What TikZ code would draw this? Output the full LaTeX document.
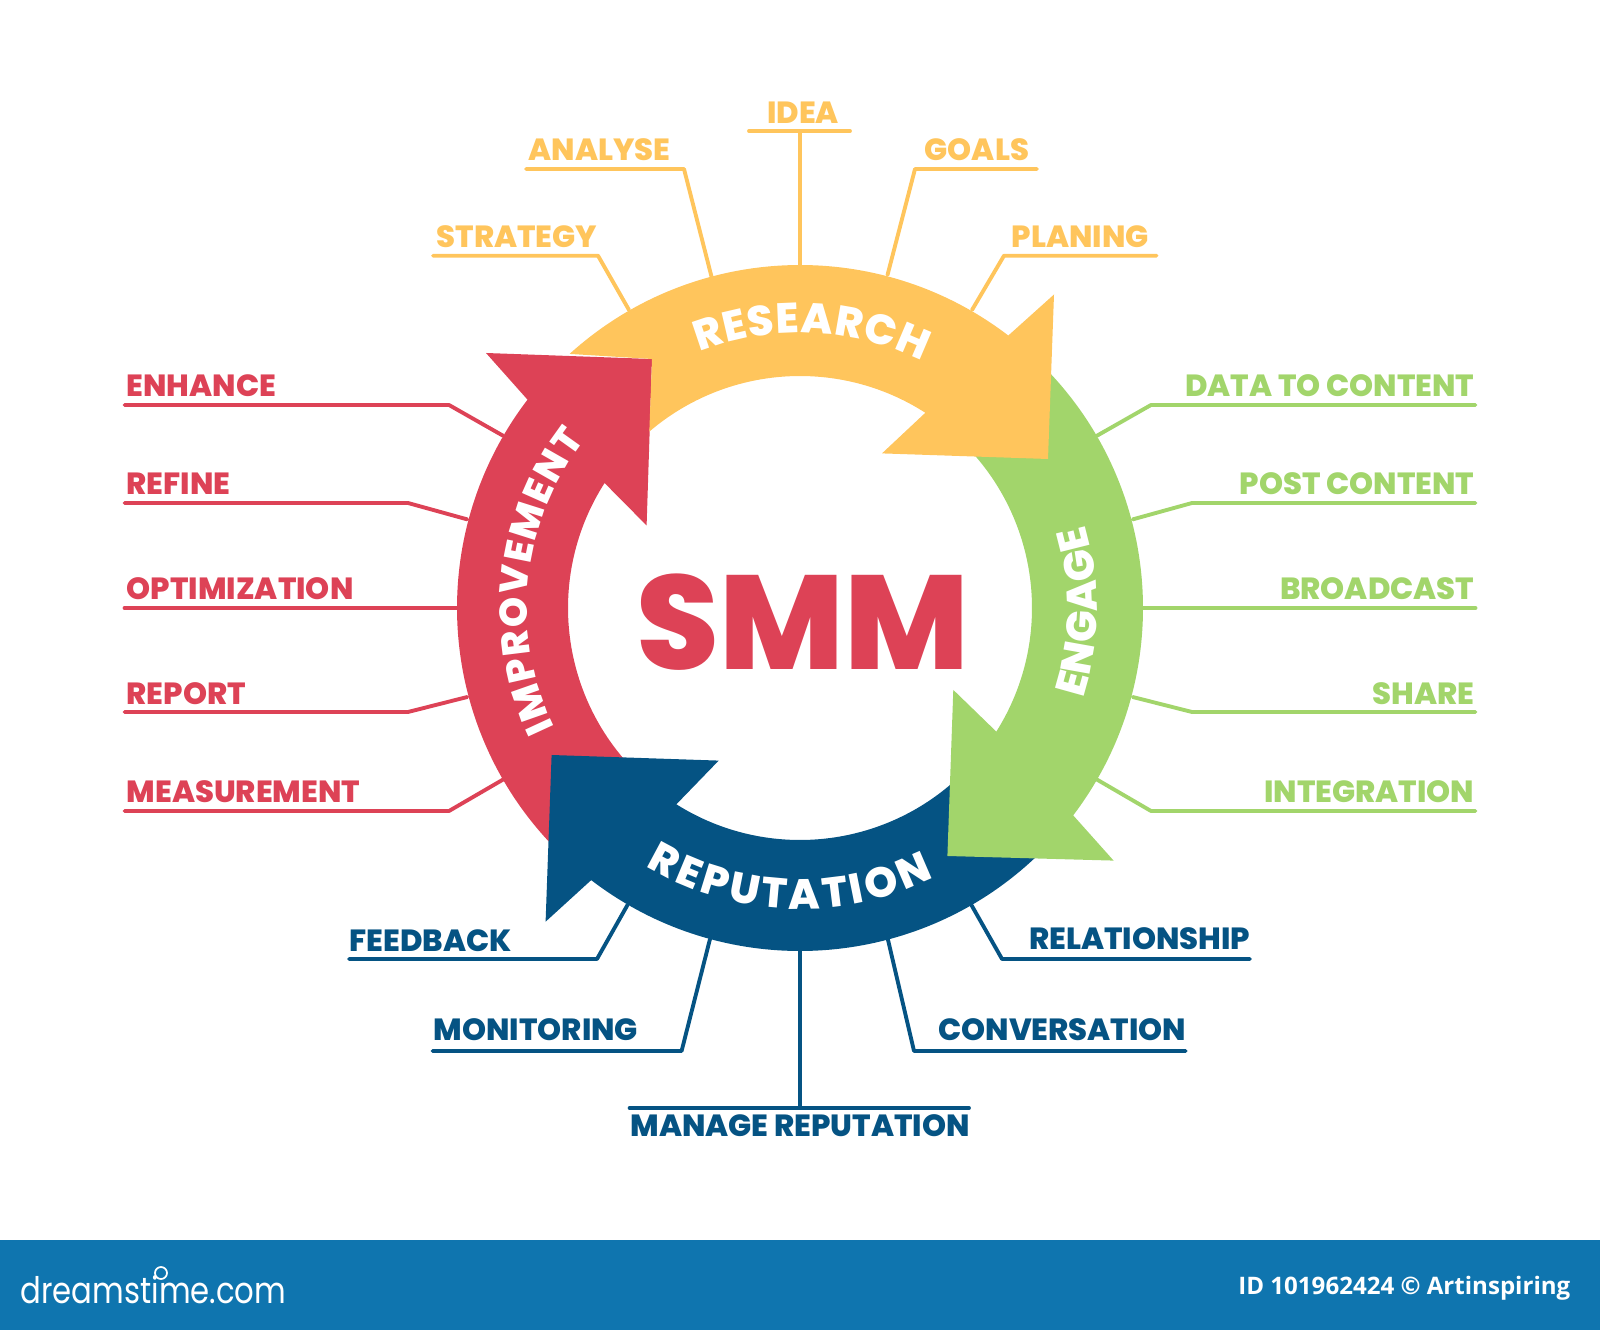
\documentclass[tikz,border=0pt]{standalone}
\usepackage{fontspec}
\setmainfont{Poppins}[BoldFont={Poppins ExtraBold}]
\newfontfamily\idfont{Open Sans}
\usetikzlibrary{calc,decorations.text}
\definecolor{yellowcol}{HTML}{FFC55C}
\definecolor{redcol}{HTML}{DD4256}
\definecolor{greencol}{HTML}{A2D56B}
\definecolor{bluecol}{HTML}{055383}
\definecolor{barcol}{HTML}{0F75AF}
\newcommand{\ringfont}{\fontsize{12}{13}\selectfont\bfseries}
\newcommand{\ringsmall}{\fontsize{11}{12}\selectfont\bfseries}
\tikzset{
	lab/.style={inner sep=0pt, font=\fontsize{8.7}{9}\selectfont\bfseries},
	labw/.style={lab, anchor=base west},
	labe/.style={lab, anchor=base east},
	wire/.style={line width=1.1pt, line cap=round, line join=round},
	ringtext/.style 2 args={decorate, decoration={text along path, text={|#1\color{white}|#2}, text align={fit to path}}}
}
\begin{document}
\begin{tikzpicture}[x=0.01cm,y=0.01cm]
	\useasboundingbox (0,0) rectangle (1600,1330);
	\coordinate (C) at (800,722);

	% arrows of the ring
	\fill[redcol] ($(C)+(225:343)$) arc (225:142.6:343) -- (486,977) -- (652,971) -- (646.6,804.5) -- ($(C)+(147.4:232)$) arc (147.4:225:232) -- cycle;
	\fill[bluecol] ($(C)+(-45:343)$) arc (-45:-127.5:343) -- (545.6,408.3) -- (551.6,575) -- (718.7,569.4) -- ($(C)+(-122.2:232)$) arc (-122.2:-45:232) -- cycle;
	\fill[greencol] ($(C)+(45:343)$) arc (45:-37.2:343) -- (1113.6,469.4) -- (947.4,474) -- (953.3,640.1) -- ($(C)+(-32.2:232)$) arc (-32.2:45:232) -- cycle;
	\fill[yellowcol] ($(C)+(132.2:343)$) arc (132.2:52.6:343) -- (1054,1035.5) -- (1048,871) -- (882,876.6) -- ($(C)+(57.3:232)$) arc (57.3:130.5:232) -- (652,971) -- cycle;

	\path[ringtext={\ringfont}{RESEARCH}] ($(C)+(111.5:275)$) arc (111.5:63.6:275);
	\path[ringtext={\ringsmall}{IMPROVEMENT}] ($(C)+(206:273)$) arc (206:142:273);
	\path[ringtext={\ringfont}{ENGAGE}] ($(C)+(-17.8:297)$) arc (-17.8:16.3:297);
	\path[ringtext={\ringfont}{REPUTATION}] ($(C)+(239.2:301)$) arc (239.2:296.4:301);

	\node (SMM) at (803,660) [anchor=base, inner sep=0pt, text=redcol, font=\fontsize{38}{42}\selectfont\bfseries] {SMM};

	% research
	\node (STR) at (436,1082) [labw, text=yellowcol] {STRATEGY};
	\node (ANA) at (528,1169) [labw, text=yellowcol] {ANALYSE};
	\node (IDE) at (803,1206) [lab, anchor=base, text=yellowcol] {IDEA};
	\node (GOA) at (924,1169) [labw, text=yellowcol] {GOALS};
	\node (PLA) at (1011,1082) [labw, text=yellowcol] {PLANING};
	\coordinate (STRa) at (433,1074.3); \coordinate (STRb) at (598,1074.3); \coordinate (STRc) at (629,1020);
	\coordinate (ANAa) at (526,1161); \coordinate (ANAb) at (684,1161); \coordinate (ANAc) at (711.5,1053.3);
	\coordinate (IDEa) at (749,1199); \coordinate (IDEb) at (850,1199); \coordinate (IDEs) at (800,1199); \coordinate (IDEc) at (800,1065);
	\coordinate (GOAa) at (1037,1161); \coordinate (GOAb) at (915,1161); \coordinate (GOAc) at (887.5,1055);
	\coordinate (PLAa) at (1156.5,1074.3); \coordinate (PLAb) at (1004,1074.3); \coordinate (PLAc) at (972,1020);
	\draw[wire, yellowcol] (STRa) -- (STRb) -- (STRc);
	\draw[wire, yellowcol] (ANAa) -- (ANAb) -- (ANAc);
	\draw[wire, yellowcol] (IDEa) -- (IDEb);
	\draw[wire, yellowcol] (IDEs) -- (IDEc);
	\draw[wire, yellowcol] (GOAa) -- (GOAb) -- (GOAc);
	\draw[wire, yellowcol] (PLAa) -- (PLAb) -- (PLAc);

	% improvement
	\node (ENH) at (126,933) [labw, text=redcol] {ENHANCE};
	\node (REF) at (126,835) [labw, text=redcol] {REFINE};
	\node (OPT) at (126,730) [labw, text=redcol] {OPTIMIZATION};
	\node (REP) at (126,625) [labw, text=redcol] {REPORT};
	\node (MEA) at (126,527) [labw, text=redcol] {MEASUREMENT};
	\coordinate (ENHa) at (124.5,925); \coordinate (ENHb) at (449,925); \coordinate (ENHc) at (503,894.3);
	\coordinate (REFa) at (124.5,827); \coordinate (REFb) at (408,827); \coordinate (REFc) at (467.3,810.6);
	\coordinate (OPTa) at (124.5,722); \coordinate (OPTc) at (458,722);
	\coordinate (REPa) at (124.5,618); \coordinate (REPb) at (408,618); \coordinate (REPc) at (467.3,633);
	\coordinate (MEAa) at (124.5,519); \coordinate (MEAb) at (449,519); \coordinate (MEAc) at (503,550.4);
	\draw[wire, redcol] (ENHa) -- (ENHb) -- (ENHc);
	\draw[wire, redcol] (REFa) -- (REFb) -- (REFc);
	\draw[wire, redcol] (OPTa) -- (OPTc);
	\draw[wire, redcol] (REPa) -- (REPb) -- (REPc);
	\draw[wire, redcol] (MEAa) -- (MEAb) -- (MEAc);

	% engage
	\node (DAT) at (1475,933) [labe, text=greencol] {DATA TO CONTENT};
	\node (POS) at (1475,835) [labe, text=greencol] {POST CONTENT};
	\node (BRO) at (1475,730) [labe, text=greencol] {BROADCAST};
	\node (SHA) at (1475,625) [labe, text=greencol] {SHARE};
	\node (INT) at (1475,527) [labe, text=greencol] {INTEGRATION};
	\coordinate (DATa) at (1475.5,925); \coordinate (DATb) at (1151,925); \coordinate (DATc) at (1097,894.3);
	\coordinate (POSa) at (1475.5,827); \coordinate (POSb) at (1192,827); \coordinate (POSc) at (1132.7,810.6);
	\coordinate (BROa) at (1475.5,722); \coordinate (BROc) at (1142,722);
	\coordinate (SHAa) at (1475.5,618); \coordinate (SHAb) at (1192,618); \coordinate (SHAc) at (1132.7,633);
	\coordinate (INTa) at (1475.5,519); \coordinate (INTb) at (1151,519); \coordinate (INTc) at (1097,550.4);
	\draw[wire, greencol] (DATa) -- (DATb) -- (DATc);
	\draw[wire, greencol] (POSa) -- (POSb) -- (POSc);
	\draw[wire, greencol] (BROa) -- (BROc);
	\draw[wire, greencol] (SHAa) -- (SHAb) -- (SHAc);
	\draw[wire, greencol] (INTa) -- (INTb) -- (INTc);

	% reputation
	\node (FEE) at (349,378) [labw, text=bluecol] {FEEDBACK};
	\node (MON) at (433,289) [labw, text=bluecol] {MONITORING};
	\node (MAN) at (800,193) [lab, anchor=base, text=bluecol] {MANAGE REPUTATION};
	\node (CON) at (1187,289) [labe, text=bluecol] {CONVERSATION};
	\node (RLT) at (1251,380) [labe, text=bluecol] {RELATIONSHIP};
	\coordinate (FEEa) at (349,371); \coordinate (FEEb) at (597,371); \coordinate (FEEc) at (627.5,425);
	\coordinate (MONa) at (432.6,279); \coordinate (MONb) at (681.6,279); \coordinate (MONc) at (710,391);
	\coordinate (MANa) at (629.6,222); \coordinate (MANb) at (969,222); \coordinate (MANs) at (800,222); \coordinate (MANc) at (800,380);
	\coordinate (CONa) at (1185.7,279); \coordinate (CONb) at (914,279); \coordinate (CONc) at (887.8,391);
	\coordinate (RLTa) at (1250,371); \coordinate (RLTb) at (1002,371); \coordinate (RLTc) at (971.4,425);
	\draw[wire, bluecol] (FEEa) -- (FEEb) -- (FEEc);
	\draw[wire, bluecol] (MONa) -- (MONb) -- (MONc);
	\draw[wire, bluecol] (MANa) -- (MANb);
	\draw[wire, bluecol] (MANs) -- (MANc);
	\draw[wire, bluecol] (CONa) -- (CONb) -- (CONc);
	\draw[wire, bluecol] (RLTa) -- (RLTb) -- (RLTc);

	% footer
	\fill[barcol] (0,0) rectangle (1600,90);
	\node (DRE) at (20,27) [anchor=base west, inner sep=0pt, text=white, font=\fontsize{10.4}{12}\selectfont] {\scalebox{0.84}[1]{dreamstime.com}};
	\node (IDT) at (1571,36) [anchor=base east, inner sep=0pt, text=white, font=\idfont\fontsize{6.85}{8}\selectfont\bfseries] {ID 101962424 © Artinspiring};
	\draw[white, line width=0.5pt] (161,57) circle (6);
\end{tikzpicture}
\end{document}
